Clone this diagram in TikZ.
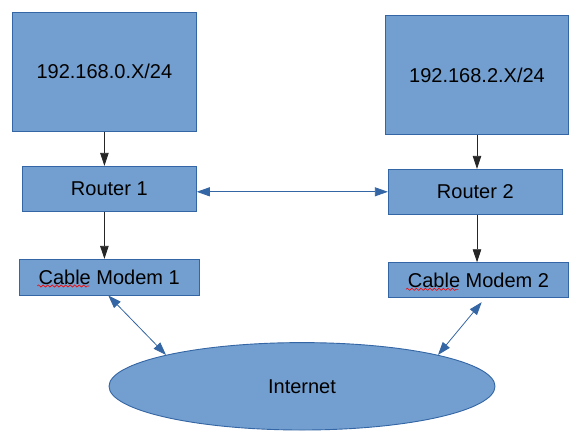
\documentclass[tikz,border=0pt]{standalone}
\usepackage{fontspec}
\setmainfont{Liberation Sans}
\usetikzlibrary{arrows.meta,shapes.geometric,calc,decorations.pathmorphing}
\definecolor{boxfill}{HTML}{729FCF}
\definecolor{boxline}{HTML}{3465A4}
\begin{document}
\begin{tikzpicture}[x=1pt,y=-1pt,
  every node/.style={font=\fontsize{20}{24}\selectfont, text=black},
  netbox/.style={draw=boxline, fill=boxfill, line width=0.9pt, inner sep=0pt, rectangle},
  darrow/.style={-{Triangle[length=13pt,width=8.5pt]}, draw=black!85, line width=0.8pt},
  barrow/.style={{Triangle[length=13pt,width=9pt]}-{Triangle[length=13pt,width=9pt]}, draw=boxline, line width=0.8pt},
  spell/.style={draw=red, line width=0.6pt, decorate, decoration={snake, amplitude=1.1pt, segment length=4.5pt}}
]
\useasboundingbox (0,0) rectangle (585,447);
\node[netbox, minimum width=183.3pt, minimum height=118.7pt] (A) at (104.4,71.7) {192.168.0.X/24};
\node[netbox, minimum width=174pt, minimum height=45pt] (R1) at (109.3,188.8) {Router 1};
\node[netbox, minimum width=180.3pt, minimum height=35.7pt] (CM1) at (109.2,277.2) {Cable Modem 1};
\node[netbox, minimum width=183.4pt, minimum height=119.4pt] (B) at (477,75) {192.168.2.X/24};
\node[netbox, minimum width=174pt, minimum height=45pt] (R2) at (475.3,191.8) {Router 2};
\node[netbox, minimum width=180.4pt, minimum height=35pt] (CM2) at (478.5,280.2) {Cable Modem 2};
\node[ellipse, draw=boxline, fill=boxfill, line width=0.9pt, inner sep=0pt, minimum width=386pt, minimum height=87.4pt] (I) at (302,386.3) {Internet};

\draw[darrow] (A.south) -- (A.south |- R1.north);
\draw[darrow] (A.south |- R1.south) -- (A.south |- CM1.north);
\draw[darrow] (B.south) -- (B.south |- R2.north);
\draw[darrow] (B.south |- R2.south) -- (B.south |- CM2.north);
\draw[barrow] (R1.east |- R2.west) -- (R2.west);
\draw[barrow] ($(CM1.south)+(-0.9,0)$) -- (I.167);
\draw[barrow] ($(CM2.south)+(3.2,4)$) -- (I.13);

\draw[spell] ($(CM1.center)+(-71.9,8.8)$) -- ($(CM1.center)+(-19.9,8.8)$);
\draw[spell] ($(CM2.center)+(-72.5,9.1)$) -- ($(CM2.center)+(-20.2,9.1)$);
\end{tikzpicture}
\end{document}
